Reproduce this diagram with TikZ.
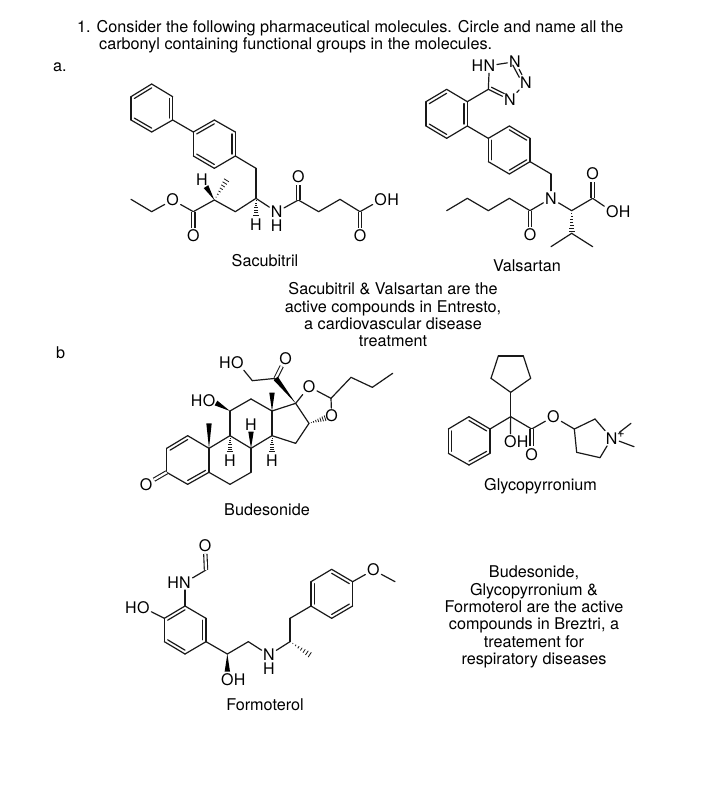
\documentclass[tikz,border=0pt]{standalone}
\usepackage{fontspec}
\setmainfont{TeX Gyre Heros}
\usetikzlibrary{calc}
\newcommand{\inb}[3]{\draw[bond] ($(#1)!.16!(#3)$) -- ($(#2)!.16!(#3)$);}
\newcommand{\inbs}[3]{\draw[bond,shorten >=5pt] ($(#1)!.2!(#3)$) -- ($(#2)!.2!(#3)$);}
\newcommand{\wdg}[2]{\fill (#1) -- ($(#2)!2.7pt!90:(#1)$) -- ($(#2)!2.7pt!-90:(#1)$) -- cycle;}
\newcommand{\hsh}[2]{\foreach \t in {.13,.26,.39,.52,.65,.78,.91} {\pgfmathsetmacro\hw{\t*3.2}\draw[hashl] ($(#1)!\t!(#2)!\hw pt!90:(#2)$) -- ($(#1)!\t!(#2)!\hw pt!-90:(#2)$);}}
\tikzset{
  txt/.style={font=\fontsize{16.2}{17.3}\selectfont, inner sep=0pt, text=black},
  para/.style={txt, align=center},
  atom/.style={font=\fontsize{16}{17}\selectfont, inner sep=1.6pt, text=black},
  atomt/.style={atom, inner sep=0pt, outer sep=1.6pt},
  hr/.style={atom, anchor=west, inner sep=0pt, xshift=-1.6pt},
  hl/.style={atom, anchor=east, inner sep=0pt, xshift=1.6pt},
  bond/.style={line width=1.2pt, line cap=round, draw=black!90},
  dbl/.style={line width=1.1pt, double=white, double distance=2.2pt, draw=black!90},
  hashl/.style={line width=.8pt, draw=black!90},
  mol/.style={x=.33333pt, y=-.33333pt}
}
\begin{document}
\begin{tikzpicture}[x=1pt,y=-1pt]
\useasboundingbox (0,0) rectangle (706,806);
% texts
\node[txt,anchor=base west] (t1) at (77,32) {1. Consider the following pharmaceutical molecules. Circle and name all the};
\node[txt,anchor=base west] (t2) at (99,49) {carbonyl containing functional groups in the molecules.};
\node[txt,anchor=base west] (ta) at (53,71) {a.};
\node[txt,anchor=base west] (tb) at (56,358) {b};
\node[txt] (n1) at (265,261) {Sacubitril};
\node[txt] (n2) at (527,266) {Valsartan};
\node[para] (p1) at (393,315) {Sacubitril \& Valsartan are the\\active compounds in Entresto,\\a cardiovascular disease\\treatment};
\node[txt] (n3) at (267,510) {Budesonide};
\node[txt] (n4) at (540.5,486.5) {Glycopyrronium};
\node[txt] (n5) at (265,705) {Formoterol};
\node[para] (p2) at (534,617) {Budesonide,\\Glycopyrronium \&\\Formoterol are the active\\compounds in Breztri, a\\treatement for\\respiratory diseases};

% Sacubitril
\begin{scope}[shift={(130,70)},mol]
\path (65,42) coordinate (sa1) (128,80) coordinate (sa2) (128,150) coordinate (sa3) (65,186) coordinate (sa4) (3,150) coordinate (sa5) (3,80) coordinate (sa6) (65,114) coordinate (sac)
 (190,186) coordinate (sb1) (253,150) coordinate (sb2) (316,186) coordinate (sb3) (316,258) coordinate (sb4) (253,295) coordinate (sb5) (190,258) coordinate (sb6) (253,222) coordinate (sbc)
 (378,295) coordinate (sc1) (378,385) coordinate (sc2) (505,390) coordinate (sc3) (566,425) coordinate (sc4) (630,388) coordinate (sc5) (690,425) coordinate (sc6)
 (316,425) coordinate (sc7) (253,390) coordinate (sc8) (190,425) coordinate (sc9) (65,425) coordinate (sc10) (3,388) coordinate (sc11)
 (228,350) coordinate (swh) (293,325) coordinate (shm) (378,440) coordinate (shh);
\node[atomt] (sN) at (440,426) {N};
\node[atom,inner sep=0pt] (sNH) at (440,467) {H};
\node[atom] (sO1) at (505,320) {O};
\node[atom] (sO2) at (752,390) {O};
\node[hr] (sH2) at (sO2.east) {H};
\node[atom] (sO3) at (690,497) {O};
\node[atom] (sO4) at (190,497) {O};
\node[atom] (sO5) at (128,390) {O};
\node[atom,inner sep=0pt] (sH1) at (216,328) {H};
\node[atom,inner sep=0pt] (sH3) at (378,463) {H};
\foreach \a/\b in {sa1/sa2,sa2/sa3,sa3/sa4,sa4/sa5,sa5/sa6,sa6/sa1,sa3/sb1,sb1/sb2,sb2/sb3,sb3/sb4,sb4/sb5,sb5/sb6,sb6/sb1,sb4/sc1,sc1/sc2,sc2/sN,sN/sc3,sc3/sc4,sc4/sc5,sc5/sc6,sc6/sO2,sc2/sc7,sc7/sc8,sc8/sc9,sc9/sO5,sO5/sc10,sc10/sc11}
  \draw[bond] (\a) -- (\b);
\inb{sa6}{sa1}{sac}\inb{sa2}{sa3}{sac}\inb{sa4}{sa5}{sac}
\inb{sb1}{sb2}{sbc}\inb{sb3}{sb4}{sbc}\inb{sb5}{sb6}{sbc}
\draw[dbl] (sc3) -- (sO1);
\draw[dbl] (sc6) -- (sO3);
\draw[dbl] (sc9) -- (sO4);
\wdg{sc8}{swh}
\hsh{sc8}{shm}
\hsh{sc2}{shh}
\end{scope}

% Valsartan
\begin{scope}[shift={(430,50)},mol]
\path (112,155) coordinate (va1) (112,228) coordinate (va2) (50,265) coordinate (va3) (-12,228) coordinate (va4) (-12,155) coordinate (va5) (50,118) coordinate (va6) (50,192) coordinate (vac)
 (175,265) coordinate (vb1) (238,228) coordinate (vb2) (300,265) coordinate (vb3) (300,335) coordinate (vb4) (238,372) coordinate (vb5) (175,335) coordinate (vb6) (238,300) coordinate (vbc)
 (175,118) coordinate (vt) (363,372) coordinate (vc1) (425,482) coordinate (vc2) (488,445) coordinate (vc3) (425,550) coordinate (vc4) (363,590) coordinate (vc5) (488,590) coordinate (vc6)
 (300,482) coordinate (vc7) (238,445) coordinate (vc8) (175,482) coordinate (vc9) (112,445) coordinate (vc10) (50,482) coordinate (vc11) (222,87) coordinate (vtc);
\node[atom] (vN1) at (178,47) {N};
\node[hl] (vH1) at (vN1.west) {H};
\node[atom] (vN2) at (255,35) {N};
\node[atom] (vN3) at (288,97) {N};
\node[atom] (vN4) at (240,150) {N};
\node[atom] (vN) at (363,445) {N};
\node[atom] (vO1) at (488,372) {O};
\node[atom] (vO2) at (547,485) {O};
\node[hr] (vH2) at (vO2.east) {H};
\node[atom] (vO3) at (300,555) {O};
\foreach \a/\b in {va1/va2,va2/va3,va3/va4,va4/va5,va5/va6,va6/va1,va2/vb1,vb1/vb2,vb2/vb3,vb3/vb4,vb4/vb5,vb5/vb6,vb6/vb1,va1/vt,vt/vN1,vN1/vN2,vN2/vN3,vN3/vN4,vN4/vt,vb4/vc1,vc1/vN,vN/vc2,vc2/vc3,vc3/vO2,vN/vc7,vc7/vc8,vc8/vc9,vc9/vc10,vc10/vc11,vc4/vc5,vc4/vc6}
  \draw[bond] (\a) -- (\b);
\inb{va1}{va2}{vac}\inb{va3}{va4}{vac}\inb{va5}{va6}{vac}
\inb{vb6}{vb1}{vbc}\inb{vb2}{vb3}{vbc}\inb{vb4}{vb5}{vbc}
\inbs{vt}{vN4}{vtc}\inbs{vN2}{vN3}{vtc}
\draw[dbl] (vc3) -- (vO1);
\draw[dbl] (vc7) -- (vO3);
\hsh{vc2}{vc4}
\end{scope}

% Budesonide
\begin{scope}[shift={(130,345)},mol]
\path (110,382) coordinate (ba1) (110,310) coordinate (ba2) (173,272) coordinate (ba3) (237,310) coordinate (ba4) (237,382) coordinate (ba5) (173,418) coordinate (ba6) (173,345) coordinate (bac)
 (300,272) coordinate (bb1) (363,310) coordinate (bb2) (363,382) coordinate (bb3) (300,418) coordinate (bb4)
 (300,198) coordinate (bc1) (363,162) coordinate (bc2) (426,198) coordinate (bc3) (426,272) coordinate (bc4)
 (497,175) coordinate (bd1) (537,235) coordinate (bd2) (497,295) coordinate (bd3)
 (237,235) coordinate (bm1) (426,143) coordinate (bm2) (300,325) coordinate (bh1) (363,260) coordinate (bh2) (426,325) coordinate (bh3)
 (258,174) coordinate (bw1) (437,100) coordinate (be1) (367,107) coordinate (be2) (590,218) coordinate (bo2h)
 (603,160) coordinate (bf1) (663,97) coordinate (bf2) (727,127) coordinate (bf3) (788,85) coordinate (bf4);
\node[atom] (bO1) at (48,418) {O};
\node[atom] (bO2) at (237,167) {O};
\node[hl] (bH2) at (bO2.west) {H};
\node[atom] (bO3) at (322,52) {O};
\node[hl] (bH3) at (bO3.west) {H};
\node[atom] (bO4) at (467,40) {O};
\node[atom] (bO5) at (537,125) {O};
\node[atom] (bO6) at (605,213) {O};
\node[atom,inner sep=0pt] (bHa) at (300,348) {H};
\node[atom,inner sep=0pt] (bHb) at (363,240) {H};
\node[atom,inner sep=0pt] (bHc) at (426,348) {H};
\foreach \a/\b in {ba1/ba2,ba2/ba3,ba3/ba4,ba4/ba5,ba5/ba6,ba6/ba1,ba4/bb1,bb1/bb2,bb2/bb3,bb3/bb4,bb4/ba5,bb1/bc1,bc1/bc2,bc2/bc3,bc3/bc4,bc4/bb2,bc3/bd1,bd1/bd2,bd2/bd3,bd3/bc4,bd1/bO5,bO5/bf1,bf1/bO6,bf1/bf2,bf2/bf3,bf3/bf4,be1/be2,be2/bO3}
  \draw[bond] (\a) -- (\b);
\inb{ba2}{ba3}{bac}\inb{ba5}{ba6}{bac}
\draw[dbl] (ba1) -- (bO1);
\draw[dbl] (be1) -- (bO4);
\wdg{ba4}{bm1}\wdg{bc3}{bm2}\wdg{bb2}{bh2}\wdg{bc1}{bw1}\wdg{bd1}{be1}
\hsh{bb1}{bh1}\hsh{bc4}{bh3}\hsh{bd2}{bo2h}
\end{scope}

% Glycopyrronium
\begin{scope}[shift={(440,345)},mol]
\path (212,142) coordinate (ga1) (272,100) coordinate (ga2) (250,33) coordinate (ga3) (175,33) coordinate (ga4) (153,100) coordinate (ga5)
 (212,215) coordinate (gc) (150,252) coordinate (gb1) (150,325) coordinate (gb2) (87,360) coordinate (gb3) (25,325) coordinate (gb4) (25,252) coordinate (gb5) (87,215) coordinate (gb6) (87,288) coordinate (gbc)
 (275,252) coordinate (gc2) (403,252) coordinate (gd1) (465,222) coordinate (gd2) (480,338) coordinate (gd4) (410,322) coordinate (gd5) (573,235) coordinate (gm1) (582,305) coordinate (gm2);
\node[atom] (gO1) at (211,290) {O};
\node[hr] (gH1) at (gO1.east) {H};
\node[atom] (gO2) at (275,328) {O};
\node[atom] (gO3) at (340,215) {O};
\node[atom] (gN) at (515,280) {N};
\node[atom,inner sep=0pt,font=\fontsize{13}{13}\selectfont] (gP) at (543,268) {+};
\foreach \a/\b in {ga1/ga2,ga2/ga3,ga3/ga4,ga4/ga5,ga5/ga1,ga1/gc,gc/gb1,gb1/gb2,gb2/gb3,gb3/gb4,gb4/gb5,gb5/gb6,gb6/gb1,gc/gO1,gc/gc2,gc2/gO3,gO3/gd1,gd1/gd2,gd2/gN,gN/gd4,gd4/gd5,gd5/gd1,gN/gm1,gN/gm2}
  \draw[bond] (\a) -- (\b);
\inb{gb6}{gb1}{gbc}\inb{gb2}{gb3}{gbc}\inb{gb4}{gb5}{gbc}
\draw[dbl] (gc2) -- (gO2);
\end{scope}

% Formoterol
\begin{scope}[shift={(120,530)},mol]
\path (195,228) coordinate (fa1) (258,265) coordinate (fa2) (258,335) coordinate (fa3) (195,372) coordinate (fa4) (133,335) coordinate (fa5) (133,265) coordinate (fa6) (195,300) coordinate (fac)
 (258,120) coordinate (fc1) (322,372) coordinate (fc2) (385,335) coordinate (fc3) (510,335) coordinate (fc4) (575,378) coordinate (fm) (510,265) coordinate (fc5) (322,425) coordinate (fw)
 (573,228) coordinate (fb1) (573,155) coordinate (fb2) (635,118) coordinate (fb3) (698,155) coordinate (fb4) (698,228) coordinate (fb5) (635,265) coordinate (fb6) (635,192) coordinate (fbc) (825,155) coordinate (fme);
\node[atom] (fO1) at (70,233) {O};
\node[hl] (fH1) at (fO1.west) {H};
\node[atom] (fN1) at (195,157) {N};
\node[hl] (fH2) at (fN1.west) {H};
\node[atom] (fO2) at (255,48) {O};
\node[atom] (fO3) at (322,448) {O};
\node[hr] (fH3) at (fO3.east) {H};
\node[atomt] (fN2) at (447,375) {N};
\node[atom,inner sep=0pt] (fH4) at (447,416) {H};
\node[atom] (fO4) at (760,120) {O};
\foreach \a/\b in {fa1/fa2,fa2/fa3,fa3/fa4,fa4/fa5,fa5/fa6,fa6/fa1,fa6/fO1,fa1/fN1,fN1/fc1,fa3/fc2,fc2/fc3,fc3/fN2,fN2/fc4,fc4/fc5,fc5/fb1,fb1/fb2,fb2/fb3,fb3/fb4,fb4/fb5,fb5/fb6,fb6/fb1,fb4/fO4,fO4/fme}
  \draw[bond] (\a) -- (\b);
\inb{fa6}{fa1}{fac}\inb{fa2}{fa3}{fac}\inb{fa4}{fa5}{fac}
\inb{fb1}{fb2}{fbc}\inb{fb3}{fb4}{fbc}\inb{fb5}{fb6}{fbc}
\draw[dbl] (fc1) -- (fO2);
\wdg{fc2}{fw}
\hsh{fc4}{fm}
\end{scope}
\end{tikzpicture}
\end{document}
